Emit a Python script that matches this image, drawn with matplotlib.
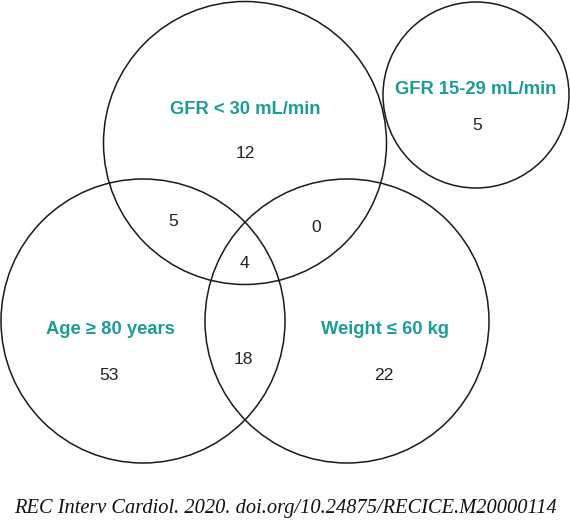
import matplotlib
matplotlib.use("Agg")
import matplotlib.pyplot as plt
from matplotlib.patches import Circle

# Data
set_labels = ["GFR < 30 mL/min", "GFR 15-29 mL/min", "Age ≥ 80 years", "Weight ≤ 60 kg"]
region_names = ["GFR only", "GFR 15-29", "GFR&Age", "GFR&Weight", "All three",
                "Age only", "Age&Weight", "Weight only"]
region_counts = [12, 5, 5, 0, 4, 53, 18, 22]
source_text = "REC Interv Cardiol. 2020. doi.org/10.24875/RECICE.M20000114"

# Layout (pixels in a 570x528 canvas)
circles = [(245, 143, 141.5), (476, 95, 93), (143, 321, 142), (347, 321, 142)]
label_pos = [(245, 110), (476, 90), (110, 329), (385, 329)]
count_pos = [(245, 153), (477, 125), (173, 222), (316, 227), (245, 263),
             (109, 375), (243, 359), (384, 375)]

TEAL = "#1b9c98"
W, H = 570, 528
fig = plt.figure(figsize=(W / 100, H / 100), dpi=100)
ax = fig.add_axes([0, 0, 1, 1])
ax.set_xlim(0, W)
ax.set_ylim(H, 0)
ax.set_aspect("equal")
ax.axis("off")

for (cx, cy, r) in circles:
    ax.add_patch(Circle((cx, cy), r, fill=False, ec="#1a1a1a", lw=1.1))

for lab, (x, y) in zip(set_labels, label_pos):
    ax.text(x, y, lab, ha="center", va="center", color=TEAL,
            fontsize=13.2, fontweight="bold", family="Liberation Sans")

for c, (x, y) in zip(region_counts, count_pos):
    ax.text(x, y, str(c), ha="center", va="center", color="#222222",
            fontsize=12.6, family="Liberation Sans")

ax.text(285, 508, source_text, ha="center", va="center", style="italic",
        fontsize=14.7, family="Liberation Serif", color="#111111")

fig.savefig("out.png", dpi=100)
